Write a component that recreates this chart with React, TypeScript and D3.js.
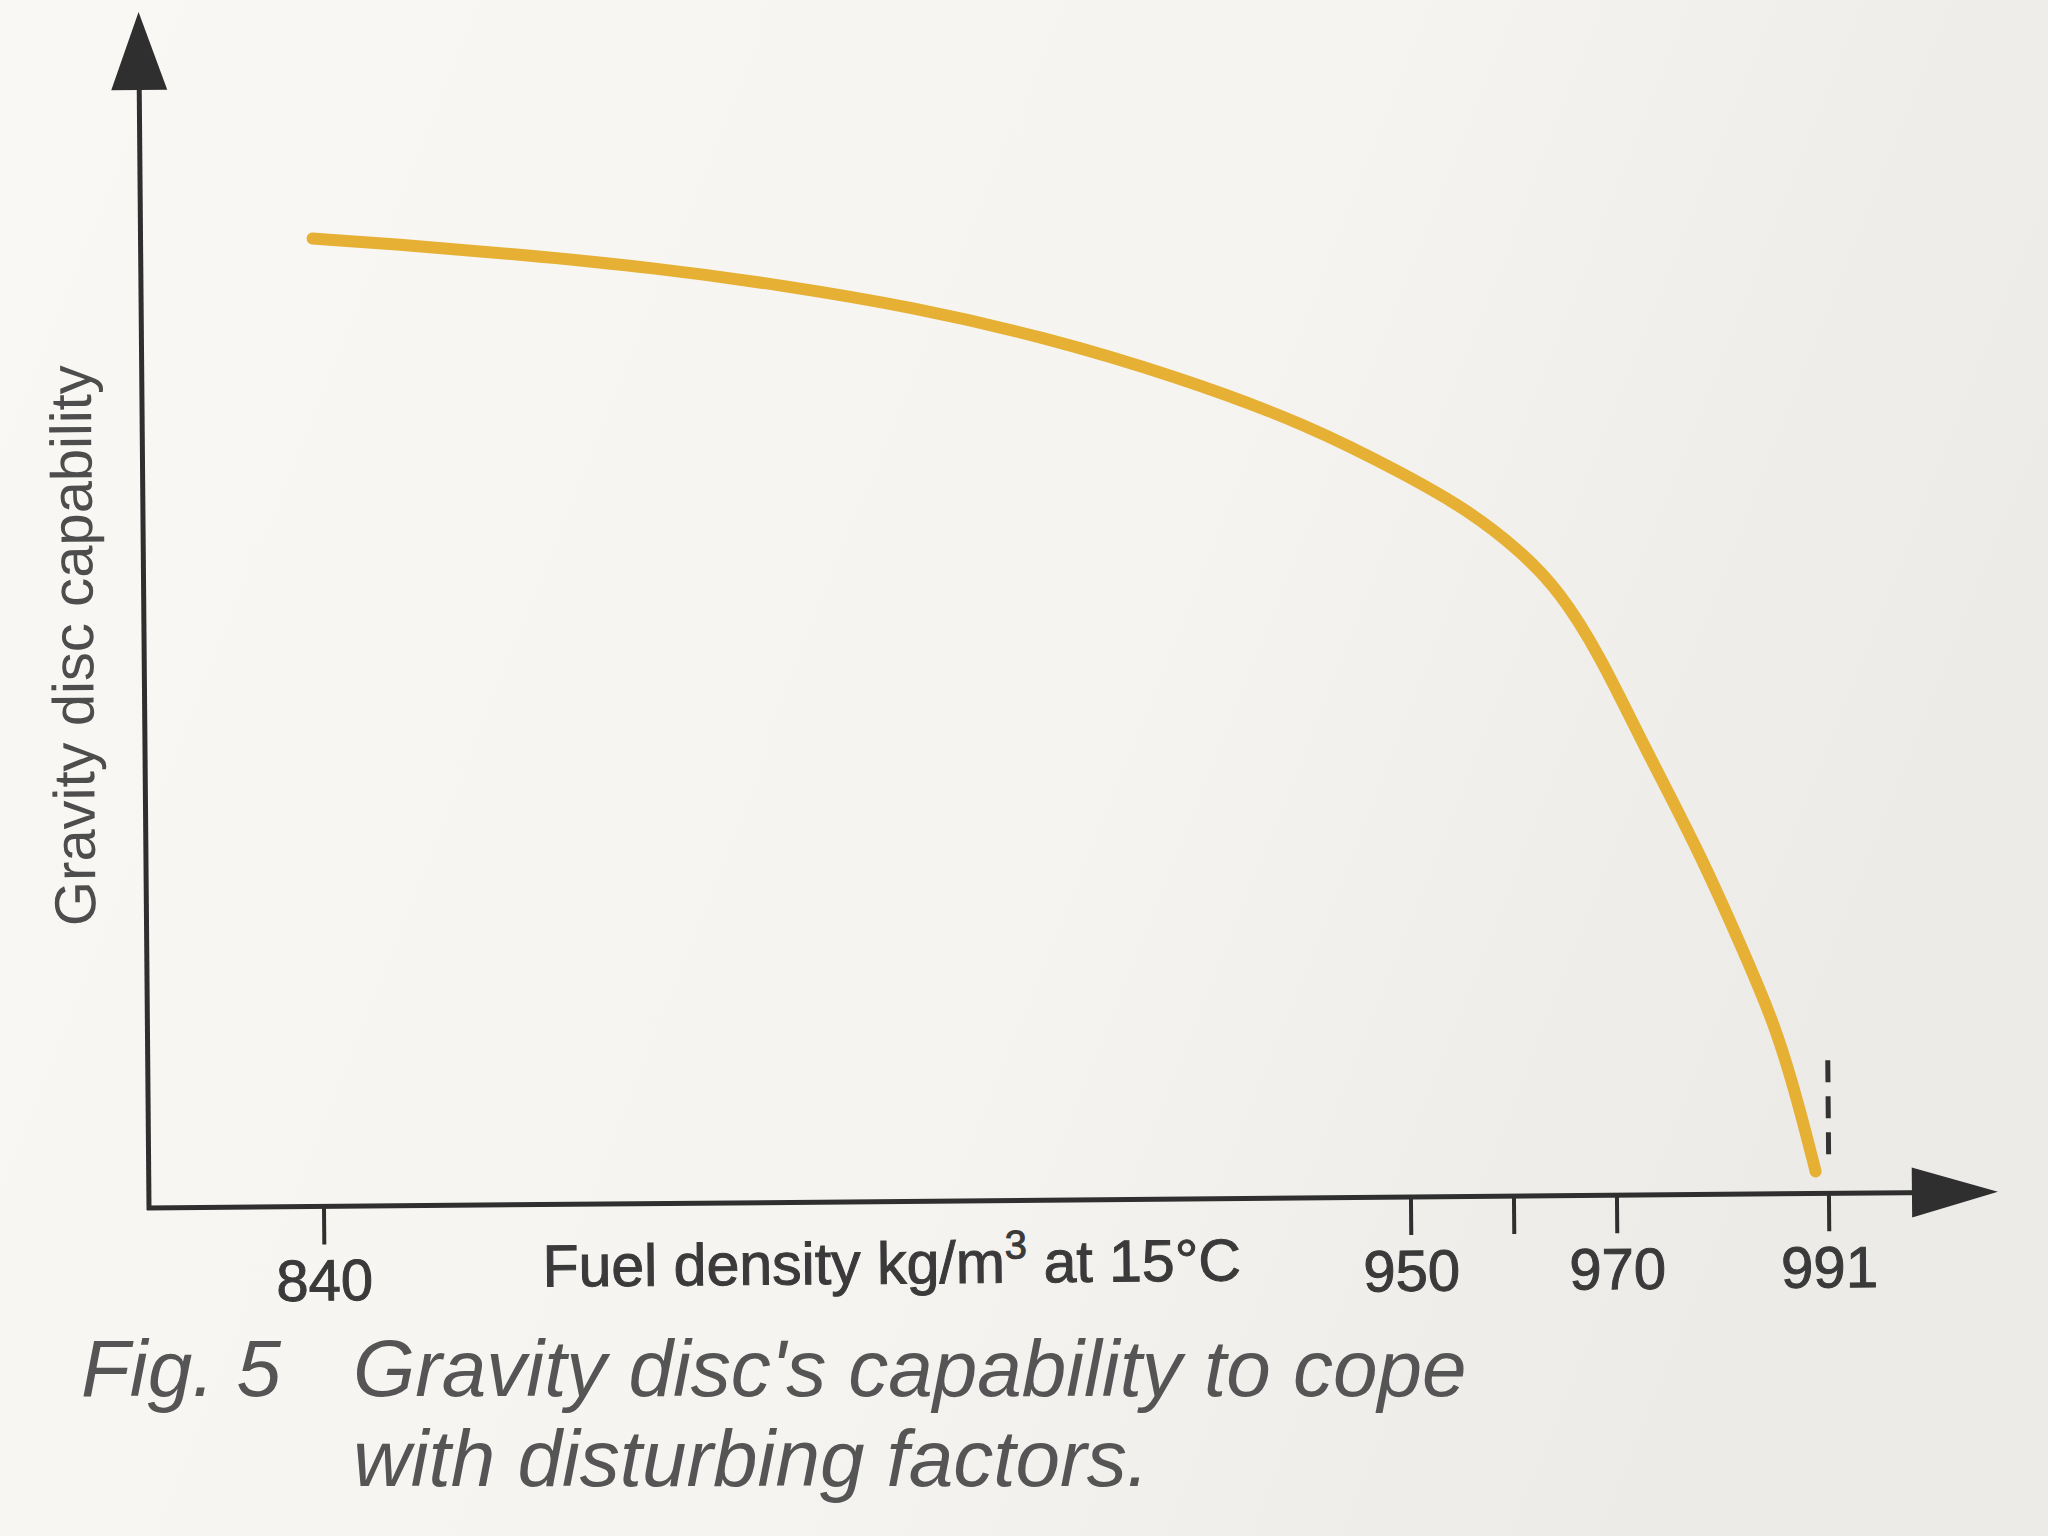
import React from "react";
import * as d3 from "d3";

// ---- data ----
const densityTicks = [840, 950, 960, 970, 991];
const densityTickLabels = ["840", "950", "", "970", "991"];
const density = [839.7, 847.7, 860.9, 874.1, 887.4, 900.5, 913.7, 926.9, 940.1, 950.5, 956.0, 961.1, 965.0, 968.8, 973.0, 978.5, 982.9, 986.0, 988.2, 989.7];
const capability = [96.8, 96.2, 95.0, 93.6, 91.7, 89.4, 86.3, 82.3, 77.4, 72.0, 68.7, 64.6, 60.4, 54.0, 45.0, 34.2, 23.9, 16.4, 8.4, 2.2];
const limitDensity = 991;
const limitRange = [3.5, 13.3];
const xTitle = "Fuel density kg/m";
const xTitleSup = "3";
const xTitleTail = " at 15°C";
const yTitle = "Gravity disc capability";
const captionLabel = "Fig. 5";
const captionLines = ["Gravity disc's capability to cope", "with disturbing factors."];

const W = 2048;
const H = 1536;
const FONT = "'Liberation Sans', Arial, Helvetica, sans-serif";

export default function App() {
  const originX = 149;
  const originY = 1208;

  const x = d3
    .scaleLinear()
    .domain([840, 950, 960, 970, 991])
    .range([324, 1411, 1514, 1617, 1829]);
  const y = d3.scaleLinear().domain([0, 100]).range([originY, originY - 1000]);

  const pts = density.map((d, i) => [d, capability[i]] as [number, number]);
  const line = d3
    .line<[number, number]>()
    .x((d) => x(d[0]))
    .y((d) => y(d[1]))
    .curve(d3.curveBasis);

  const axisColor = "#2f2f2f";
  const textColor = "#3a3a3a";

  const xArrowTip = 1998;
  const yArrowTip = 12;

  return (
    <svg
      width={W}
      height={H}
      viewBox={`0 0 ${W} ${H}`}
      style={{ position: "absolute", left: 0, top: 0, display: "block" }}
    >
      <defs>
        <linearGradient id="paper" x1="0" y1="0" x2="1" y2="0.3">
          <stop offset="0" stopColor="#f9f8f4" />
          <stop offset="0.6" stopColor="#f5f4f0" />
          <stop offset="1" stopColor="#ecebe7" />
        </linearGradient>
      </defs>
      <rect x={0} y={0} width={W} height={H} fill="url(#paper)" />

      <g transform={`rotate(-0.5, ${originX}, ${originY})`}>
        {/* y axis */}
        <line x1={originX} y1={originY + 2} x2={originX} y2={yArrowTip + 60} stroke={axisColor} strokeWidth={5} />
        <path
          d={`M${originX},${yArrowTip} L${originX - 28},${yArrowTip + 78} L${originX + 28},${yArrowTip + 78} Z`}
          fill={axisColor}
        />
        {/* x axis */}
        <line x1={originX - 2} y1={originY} x2={xArrowTip - 60} y2={originY} stroke={axisColor} strokeWidth={5} />
        <path
          d={`M${xArrowTip},${originY} L${xArrowTip - 86},${originY - 25} L${xArrowTip - 86},${originY + 25} Z`}
          fill={axisColor}
        />

        {/* ticks */}
        {densityTicks.map((t, i) => (
          <g key={t}>
            <line x1={x(t)} y1={originY} x2={x(t)} y2={originY + 38} stroke={axisColor} strokeWidth={4} />
            {densityTickLabels[i] && (
              <text
                x={x(t)}
                y={originY + 94}
                textAnchor="middle"
                fontFamily={FONT}
                fontSize={58}
                fill={textColor}
                stroke={textColor}
                strokeWidth={1}
              >
                {densityTickLabels[i]}
              </text>
            )}
          </g>
        ))}

        {/* x title */}
        <text
          x={542}
          y={originY + 82}
          fontFamily={FONT}
          fontSize={59}
          fill={textColor}
          stroke={textColor}
          strokeWidth={1}
        >
          {xTitle}
          <tspan fontSize={40} dy={-24}>
            {xTitleSup}
          </tspan>
          <tspan dy={24}>{xTitleTail}</tspan>
        </text>

        {/* y title */}
        <text
          transform={`translate(98, 645) rotate(-90)`}
          textAnchor="middle"
          fontFamily={FONT}
          fontSize={58}
          fill="#4d4d4d"
        >
          {yTitle}
        </text>

        {/* limit marker */}
        <line
          x1={x(limitDensity)}
          x2={x(limitDensity)}
          y1={y(limitRange[1])}
          y2={y(limitRange[0])}
          stroke="#333"
          strokeWidth={5}
          strokeDasharray="22 14"
        />

        {/* curve */}
        <path
          d={line(pts) || ""}
          fill="none"
          stroke="#e6b034"
          strokeWidth={12}
          strokeLinecap="round"
          strokeLinejoin="round"
        />
      </g>

      {/* caption */}
      <g fontFamily={FONT} fontStyle="italic" fontSize={80} fill="#555">
        <text x={81} y={1396}>
          {captionLabel}
        </text>
        <text x={353} y={1396}>
          {captionLines[0]}
        </text>
        <text x={353} y={1486}>
          {captionLines[1]}
        </text>
      </g>
    </svg>
  );
}
